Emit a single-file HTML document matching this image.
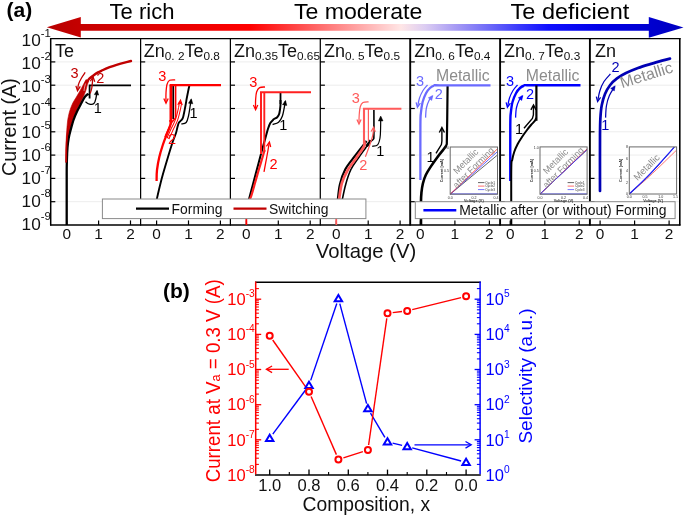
<!DOCTYPE html>
<html lang="en"><head><meta charset="utf-8"><title>Figure</title>
<style>html,body{margin:0;padding:0;background:#fff;}svg{display:block;}text{font-family:'Liberation Sans', sans-serif;}</style>
</head><body>
<svg width="685" height="517" viewBox="0 0 685 517">
<rect width="685" height="517" fill="#fff"/>
<defs><linearGradient id="g" gradientUnits="userSpaceOnUse" x1="47" y1="0" x2="684" y2="0">
<stop offset="0.0000" stop-color="#b80000"/>
<stop offset="0.1146" stop-color="#d40000"/>
<stop offset="0.3187" stop-color="#ff0000"/>
<stop offset="0.4600" stop-color="#ff8a8a"/>
<stop offset="0.5557" stop-color="#ffe6e6"/>
<stop offset="0.5934" stop-color="#dccdf2"/>
<stop offset="0.6405" stop-color="#a89cf4"/>
<stop offset="0.6954" stop-color="#6c68f8"/>
<stop offset="0.7425" stop-color="#3838fc"/>
<stop offset="0.7865" stop-color="#1010ff"/>
<stop offset="0.8681" stop-color="#0000e6"/>
<stop offset="1.0000" stop-color="#0000c0"/>
</linearGradient></defs>
<path d="M46.8 27.3 L80.8 17 L80.8 23.9 L648.8 23.9 L648.8 17 L683.5 27.5 L648.8 37.8 L648.8 30.8 L80.8 30.8 L80.8 37.4 Z" fill="url(#g)"/>
<text x="109.6" y="19.4" font-size="22" fill="#000" text-anchor="start" >Te rich</text>
<text x="293.9" y="19.4" font-size="22" fill="#000" text-anchor="start" textLength="128.5" lengthAdjust="spacingAndGlyphs">Te moderate</text>
<text x="510.6" y="19.3" font-size="22" fill="#000" text-anchor="start" textLength="118.8" lengthAdjust="spacingAndGlyphs">Te deficient</text>
<text x="6.5" y="16.8" font-size="21" fill="#000" text-anchor="start" font-weight="bold" >(a)</text>
<line x1="50.7" y1="201.7" x2="679.8" y2="201.7" stroke="#ebebeb" stroke-width="0.9"/>
<line x1="50.7" y1="178.4" x2="679.8" y2="178.4" stroke="#ebebeb" stroke-width="0.9"/>
<line x1="50.7" y1="155.1" x2="679.8" y2="155.1" stroke="#ebebeb" stroke-width="0.9"/>
<line x1="50.7" y1="131.8" x2="679.8" y2="131.8" stroke="#ebebeb" stroke-width="0.9"/>
<line x1="50.7" y1="108.5" x2="679.8" y2="108.5" stroke="#ebebeb" stroke-width="0.9"/>
<line x1="50.7" y1="85.2" x2="679.8" y2="85.2" stroke="#ebebeb" stroke-width="0.9"/>
<line x1="50.7" y1="61.9" x2="679.8" y2="61.9" stroke="#ebebeb" stroke-width="0.9"/>
<line x1="50.7" y1="201.7" x2="55.3" y2="201.7" stroke="#000" stroke-width="1.2"/>
<line x1="50.7" y1="178.4" x2="55.3" y2="178.4" stroke="#000" stroke-width="1.2"/>
<line x1="50.7" y1="155.1" x2="55.3" y2="155.1" stroke="#000" stroke-width="1.2"/>
<line x1="50.7" y1="131.8" x2="55.3" y2="131.8" stroke="#000" stroke-width="1.2"/>
<line x1="50.7" y1="108.5" x2="55.3" y2="108.5" stroke="#000" stroke-width="1.2"/>
<line x1="50.7" y1="85.2" x2="55.3" y2="85.2" stroke="#000" stroke-width="1.2"/>
<line x1="50.7" y1="61.9" x2="55.3" y2="61.9" stroke="#000" stroke-width="1.2"/>
<line x1="66.7" y1="225.0" x2="66.7" y2="220.4" stroke="#000" stroke-width="1.2"/>
<text x="66.7" y="238.7" font-size="15.4" fill="#111" text-anchor="middle" >0</text>
<line x1="98.6" y1="225.0" x2="98.6" y2="220.4" stroke="#000" stroke-width="1.2"/>
<text x="98.6" y="238.7" font-size="15.4" fill="#111" text-anchor="middle" >1</text>
<line x1="130.5" y1="225.0" x2="130.5" y2="220.4" stroke="#000" stroke-width="1.2"/>
<text x="130.5" y="238.7" font-size="15.4" fill="#111" text-anchor="middle" >2</text>
<line x1="50.7" y1="38.1" x2="50.7" y2="225.6" stroke="#000" stroke-width="1.5"/>
<line x1="140.6" y1="201.7" x2="145.2" y2="201.7" stroke="#000" stroke-width="1.2"/>
<line x1="140.6" y1="178.4" x2="145.2" y2="178.4" stroke="#000" stroke-width="1.2"/>
<line x1="140.6" y1="155.1" x2="145.2" y2="155.1" stroke="#000" stroke-width="1.2"/>
<line x1="140.6" y1="131.8" x2="145.2" y2="131.8" stroke="#000" stroke-width="1.2"/>
<line x1="140.6" y1="108.5" x2="145.2" y2="108.5" stroke="#000" stroke-width="1.2"/>
<line x1="140.6" y1="85.2" x2="145.2" y2="85.2" stroke="#000" stroke-width="1.2"/>
<line x1="140.6" y1="61.9" x2="145.2" y2="61.9" stroke="#000" stroke-width="1.2"/>
<line x1="156.6" y1="225.0" x2="156.6" y2="220.4" stroke="#000" stroke-width="1.2"/>
<text x="156.6" y="238.7" font-size="15.4" fill="#111" text-anchor="middle" >0</text>
<line x1="188.5" y1="225.0" x2="188.5" y2="220.4" stroke="#000" stroke-width="1.2"/>
<text x="188.5" y="238.7" font-size="15.4" fill="#111" text-anchor="middle" >1</text>
<line x1="220.4" y1="225.0" x2="220.4" y2="220.4" stroke="#000" stroke-width="1.2"/>
<text x="220.4" y="238.7" font-size="15.4" fill="#111" text-anchor="middle" >2</text>
<line x1="140.6" y1="38.1" x2="140.6" y2="225.6" stroke="#000" stroke-width="1.25"/>
<line x1="230.4" y1="201.7" x2="235.0" y2="201.7" stroke="#000" stroke-width="1.2"/>
<line x1="230.4" y1="178.4" x2="235.0" y2="178.4" stroke="#000" stroke-width="1.2"/>
<line x1="230.4" y1="155.1" x2="235.0" y2="155.1" stroke="#000" stroke-width="1.2"/>
<line x1="230.4" y1="131.8" x2="235.0" y2="131.8" stroke="#000" stroke-width="1.2"/>
<line x1="230.4" y1="108.5" x2="235.0" y2="108.5" stroke="#000" stroke-width="1.2"/>
<line x1="230.4" y1="85.2" x2="235.0" y2="85.2" stroke="#000" stroke-width="1.2"/>
<line x1="230.4" y1="61.9" x2="235.0" y2="61.9" stroke="#000" stroke-width="1.2"/>
<line x1="246.4" y1="225.0" x2="246.4" y2="220.4" stroke="#000" stroke-width="1.2"/>
<text x="246.4" y="238.7" font-size="15.4" fill="#111" text-anchor="middle" >0</text>
<line x1="278.3" y1="225.0" x2="278.3" y2="220.4" stroke="#000" stroke-width="1.2"/>
<text x="278.3" y="238.7" font-size="15.4" fill="#111" text-anchor="middle" >1</text>
<line x1="310.2" y1="225.0" x2="310.2" y2="220.4" stroke="#000" stroke-width="1.2"/>
<text x="310.2" y="238.7" font-size="15.4" fill="#111" text-anchor="middle" >2</text>
<line x1="230.4" y1="38.1" x2="230.4" y2="225.6" stroke="#000" stroke-width="1.25"/>
<line x1="320.3" y1="201.7" x2="324.9" y2="201.7" stroke="#000" stroke-width="1.2"/>
<line x1="320.3" y1="178.4" x2="324.9" y2="178.4" stroke="#000" stroke-width="1.2"/>
<line x1="320.3" y1="155.1" x2="324.9" y2="155.1" stroke="#000" stroke-width="1.2"/>
<line x1="320.3" y1="131.8" x2="324.9" y2="131.8" stroke="#000" stroke-width="1.2"/>
<line x1="320.3" y1="108.5" x2="324.9" y2="108.5" stroke="#000" stroke-width="1.2"/>
<line x1="320.3" y1="85.2" x2="324.9" y2="85.2" stroke="#000" stroke-width="1.2"/>
<line x1="320.3" y1="61.9" x2="324.9" y2="61.9" stroke="#000" stroke-width="1.2"/>
<line x1="336.3" y1="225.0" x2="336.3" y2="220.4" stroke="#000" stroke-width="1.2"/>
<text x="336.3" y="238.7" font-size="15.4" fill="#111" text-anchor="middle" >0</text>
<line x1="368.2" y1="225.0" x2="368.2" y2="220.4" stroke="#000" stroke-width="1.2"/>
<text x="368.2" y="238.7" font-size="15.4" fill="#111" text-anchor="middle" >1</text>
<line x1="400.1" y1="225.0" x2="400.1" y2="220.4" stroke="#000" stroke-width="1.2"/>
<text x="400.1" y="238.7" font-size="15.4" fill="#111" text-anchor="middle" >2</text>
<line x1="320.3" y1="38.1" x2="320.3" y2="225.6" stroke="#000" stroke-width="1.25"/>
<line x1="410.2" y1="201.7" x2="414.8" y2="201.7" stroke="#000" stroke-width="1.2"/>
<line x1="410.2" y1="178.4" x2="414.8" y2="178.4" stroke="#000" stroke-width="1.2"/>
<line x1="410.2" y1="155.1" x2="414.8" y2="155.1" stroke="#000" stroke-width="1.2"/>
<line x1="410.2" y1="131.8" x2="414.8" y2="131.8" stroke="#000" stroke-width="1.2"/>
<line x1="410.2" y1="108.5" x2="414.8" y2="108.5" stroke="#000" stroke-width="1.2"/>
<line x1="410.2" y1="85.2" x2="414.8" y2="85.2" stroke="#000" stroke-width="1.2"/>
<line x1="410.2" y1="61.9" x2="414.8" y2="61.9" stroke="#000" stroke-width="1.2"/>
<line x1="420.4" y1="225.0" x2="420.4" y2="220.4" stroke="#000" stroke-width="1.2"/>
<text x="420.4" y="238.7" font-size="15.4" fill="#111" text-anchor="middle" >0</text>
<line x1="454.9" y1="225.0" x2="454.9" y2="220.4" stroke="#000" stroke-width="1.2"/>
<text x="454.9" y="238.7" font-size="15.4" fill="#111" text-anchor="middle" >1</text>
<line x1="489.4" y1="225.0" x2="489.4" y2="220.4" stroke="#000" stroke-width="1.2"/>
<text x="489.4" y="238.7" font-size="15.4" fill="#111" text-anchor="middle" >2</text>
<line x1="410.2" y1="38.1" x2="410.2" y2="225.6" stroke="#000" stroke-width="1.9"/>
<line x1="500.1" y1="201.7" x2="504.7" y2="201.7" stroke="#000" stroke-width="1.2"/>
<line x1="500.1" y1="178.4" x2="504.7" y2="178.4" stroke="#000" stroke-width="1.2"/>
<line x1="500.1" y1="155.1" x2="504.7" y2="155.1" stroke="#000" stroke-width="1.2"/>
<line x1="500.1" y1="131.8" x2="504.7" y2="131.8" stroke="#000" stroke-width="1.2"/>
<line x1="500.1" y1="108.5" x2="504.7" y2="108.5" stroke="#000" stroke-width="1.2"/>
<line x1="500.1" y1="85.2" x2="504.7" y2="85.2" stroke="#000" stroke-width="1.2"/>
<line x1="500.1" y1="61.9" x2="504.7" y2="61.9" stroke="#000" stroke-width="1.2"/>
<line x1="510.2" y1="225.0" x2="510.2" y2="220.4" stroke="#000" stroke-width="1.2"/>
<text x="510.2" y="238.7" font-size="15.4" fill="#111" text-anchor="middle" >0</text>
<line x1="544.8" y1="225.0" x2="544.8" y2="220.4" stroke="#000" stroke-width="1.2"/>
<text x="544.8" y="238.7" font-size="15.4" fill="#111" text-anchor="middle" >1</text>
<line x1="579.2" y1="225.0" x2="579.2" y2="220.4" stroke="#000" stroke-width="1.2"/>
<text x="579.2" y="238.7" font-size="15.4" fill="#111" text-anchor="middle" >2</text>
<line x1="500.1" y1="38.1" x2="500.1" y2="225.6" stroke="#000" stroke-width="1.9"/>
<line x1="589.9" y1="201.7" x2="594.5" y2="201.7" stroke="#000" stroke-width="1.2"/>
<line x1="589.9" y1="178.4" x2="594.5" y2="178.4" stroke="#000" stroke-width="1.2"/>
<line x1="589.9" y1="155.1" x2="594.5" y2="155.1" stroke="#000" stroke-width="1.2"/>
<line x1="589.9" y1="131.8" x2="594.5" y2="131.8" stroke="#000" stroke-width="1.2"/>
<line x1="589.9" y1="108.5" x2="594.5" y2="108.5" stroke="#000" stroke-width="1.2"/>
<line x1="589.9" y1="85.2" x2="594.5" y2="85.2" stroke="#000" stroke-width="1.2"/>
<line x1="589.9" y1="61.9" x2="594.5" y2="61.9" stroke="#000" stroke-width="1.2"/>
<line x1="600.1" y1="225.0" x2="600.1" y2="220.4" stroke="#000" stroke-width="1.2"/>
<text x="600.1" y="238.7" font-size="15.4" fill="#111" text-anchor="middle" >0</text>
<line x1="634.6" y1="225.0" x2="634.6" y2="220.4" stroke="#000" stroke-width="1.2"/>
<text x="634.6" y="238.7" font-size="15.4" fill="#111" text-anchor="middle" >1</text>
<line x1="669.1" y1="225.0" x2="669.1" y2="220.4" stroke="#000" stroke-width="1.2"/>
<text x="669.1" y="238.7" font-size="15.4" fill="#111" text-anchor="middle" >2</text>
<line x1="589.9" y1="38.1" x2="589.9" y2="225.6" stroke="#000" stroke-width="1.9"/>
<line x1="679.8" y1="38.1" x2="679.8" y2="225.6" stroke="#000" stroke-width="1.6"/>
<line x1="50.1" y1="38.6" x2="680.5" y2="38.6" stroke="#000" stroke-width="1.2"/>
<line x1="50.1" y1="225.0" x2="680.5" y2="225.0" stroke="#000" stroke-width="1.5"/>
<path d="M65.9 162.5 C65.9 160.4 65.9 153.8 65.9 150.0 C66.0 146.2 66.1 143.3 66.2 140.0 C66.3 136.7 66.6 133.2 66.8 130.0 C67.0 126.8 67.3 123.5 67.6 121.0 C67.9 118.5 68.3 116.9 68.7 115.0 C69.1 113.1 69.5 111.5 70.2 109.5 C70.9 107.5 71.8 105.1 72.8 103.0 C73.8 100.9 75.2 99.1 76.4 97.0 C77.6 94.9 79.0 92.6 80.2 90.5 C81.4 88.4 82.4 86.3 83.4 84.5 C84.4 82.7 85.6 80.4 86.0 79.6 L88.8 81.0 C88.6 81.6 87.9 83.1 87.4 84.6 C86.9 86.1 86.6 88.1 86.0 90.0 C85.4 91.9 84.6 94.0 83.6 96.2 C82.6 98.5 81.2 101.1 80.0 103.5 C78.8 105.9 77.8 107.8 76.6 110.5 C75.4 113.2 74.1 116.3 73.0 119.5 C71.9 122.7 71.0 126.4 70.2 129.5 C69.4 132.6 68.7 135.0 68.2 138.0 C67.7 141.0 67.4 143.6 67.2 147.3 C67.0 151.0 67.0 157.5 67.0 160.0 C67.0 162.5 66.9 162.1 66.9 162.5 Z" fill="#c00000" stroke="#c00000" stroke-width="0.6"/>
<path d="M66.7 225.0 C66.7 216.7 66.7 185.8 66.7 175.0 C66.7 164.2 66.8 164.6 66.9 160.0 C67.0 155.4 67.2 151.0 67.5 147.3 C67.8 143.6 68.2 140.9 68.7 138.0 C69.2 135.1 69.9 132.8 70.7 129.8 C71.5 126.8 72.5 123.0 73.5 120.0 C74.5 117.0 75.8 114.0 77.0 111.5 C78.2 109.0 79.2 107.3 80.4 105.0 C81.6 102.7 83.1 99.5 84.2 97.8 C85.3 96.1 86.1 95.6 86.8 94.9 C87.5 94.2 88.3 94.1 88.6 93.9" fill="none" stroke="#000" stroke-width="2.3" />
<path d="M89.6 98.4 L89.6 85.4 L131.0 85.4" fill="none" stroke="#000" stroke-width="1.8" />
<path d="M66.2 162.5 C66.2 160.8 66.2 155.6 66.3 152.0 C66.4 148.4 66.5 144.3 66.8 141.0 C67.0 137.7 67.4 134.8 67.8 132.0 C68.2 129.2 69.1 125.3 69.4 124.0" fill="none" stroke="#c00000" stroke-width="1.7" />
<path d="M83.4 88.0 C83.7 87.3 84.8 85.1 85.4 84.0 C86.0 82.9 86.5 82.3 87.2 81.4 C87.9 80.5 88.6 79.4 89.6 78.4 C90.6 77.4 92.0 76.4 93.4 75.4 C94.8 74.4 96.4 73.3 98.0 72.4 C99.6 71.5 101.1 70.9 103.0 70.0 C104.9 69.1 107.3 68.1 109.6 67.2 C111.9 66.3 114.3 65.5 116.6 64.8 C118.9 64.1 121.2 63.4 123.6 62.8 C126.0 62.2 129.8 61.3 131.0 61.0" fill="none" stroke="#c00000" stroke-width="2.4" stroke-linecap="round"/>
<path d="M84.0 91.0 C84.1 90.3 84.3 88.2 84.6 87.0 C84.9 85.8 85.4 84.1 85.6 83.5" fill="none" stroke="#f3d0d0" stroke-width="0.7" />
<text x="74.5" y="78.2" font-size="14.5" fill="#c00000" text-anchor="middle" >3</text>
<path d="M85.2 72.4 C84.6 73.3 82.6 76.1 81.5 78.0 C80.4 79.9 79.2 82.0 78.6 84.0 C77.9 86.0 77.8 89.2 77.6 90.2" fill="none" stroke="#c00000" stroke-width="1.3" />
<path d="M75.9 85.9 L77.5 90.8 L80.3 86.4" fill="none" stroke="#c00000" stroke-width="1.25" stroke-linejoin="miter"/>
<text x="100.4" y="83.3" font-size="14.5" fill="#c00000" text-anchor="middle" >2</text>
<path d="M90.2 93.5 C90.5 92.6 91.3 90.7 91.8 88.0 C92.2 85.3 92.7 79.2 92.9 77.4" fill="none" stroke="#c00000" stroke-width="1.3" />
<path d="M94.8 81.7 L93.0 76.8 L90.4 81.3" fill="none" stroke="#c00000" stroke-width="1.25" stroke-linejoin="miter"/>
<path d="M85.5 101.8 C86.2 102.2 88.1 103.9 89.5 104.2 C90.9 104.5 92.8 104.6 93.9 103.6 C95.0 102.6 95.5 100.1 96.0 98.0 C96.5 95.9 96.8 92.2 97.0 91.0" fill="none" stroke="#000" stroke-width="1.3" />
<path d="M98.7 95.1 L97.1 90.2 L94.3 94.6 Z" fill="#000" stroke="#000" stroke-width="0.5"/>
<text x="97.9" y="112.8" font-size="14.5" fill="#000" text-anchor="middle" >1</text>
<path d="M156.6 200.0 C157.0 198.3 157.9 194.2 158.9 190.0 C159.9 185.8 161.2 180.3 162.7 175.0 C164.2 169.7 166.0 163.7 167.7 158.0 C169.4 152.3 171.6 145.2 173.0 141.0 C174.4 136.8 175.2 135.4 176.0 133.0 C176.8 130.6 177.1 128.2 177.6 126.5 C178.1 124.8 178.2 123.9 179.0 122.6 C179.8 121.3 181.8 120.1 182.6 118.5 C183.4 116.9 183.5 115.3 184.0 113.2 C184.5 111.1 184.9 108.5 185.4 106.0 C185.9 103.5 186.3 100.6 186.8 98.0 C187.3 95.4 187.9 92.6 188.3 90.5 C188.7 88.4 189.2 86.2 189.4 85.4" fill="none" stroke="#000" stroke-width="1.9" />
<path d="M173.2 119.0 L173.2 86.0" fill="none" stroke="#000" stroke-width="1.8" />
<path d="M156.6 181.0 C156.6 179.2 156.5 174.0 157.0 170.0 C157.5 166.0 158.3 161.2 159.3 157.0 C160.3 152.8 161.6 148.7 162.8 145.0 C164.0 141.3 165.2 138.3 166.5 135.0 C167.8 131.7 169.7 127.5 170.3 125.0 C171.0 122.5 170.4 120.8 170.4 120.0" fill="none" stroke="#ff0000" stroke-width="2.3" />
<path d="M170.9 122.0 L170.9 85.2" fill="none" stroke="#ff0000" stroke-width="2.8" />
<path d="M169.6 85.2 L221.0 85.2" fill="none" stroke="#ff0000" stroke-width="2.2" />
<path d="M165.0 137.0 L168.0 130.0 L172.0 122.0 L175.6 118.0 L175.6 85.2" fill="none" stroke="#ff0000" stroke-width="1.6" />
<path d="M168.0 138.5 C168.7 137.0 170.6 132.6 172.0 129.5 C173.4 126.4 175.2 123.6 176.5 120.0 C177.8 116.4 178.9 111.0 179.6 108.0 C180.2 105.0 180.3 103.0 180.4 102.0" fill="none" stroke="#ff0000" stroke-width="3.2" />
<path d="M168.4 137.5 C169.0 136.2 170.7 132.4 172.0 129.5 C173.3 126.6 175.2 123.6 176.5 120.0 C177.8 116.4 179.0 110.7 179.6 108.0 C180.2 105.3 180.2 104.7 180.3 104.0" fill="none" stroke="#fff" stroke-width="1.2" />
<path d="M182.2 105.1 L180.5 100.2 L177.8 104.7" fill="none" stroke="#ff0000" stroke-width="1.25" stroke-linejoin="miter"/>
<text x="172.0" y="144.2" font-size="14.5" fill="#ff0000" text-anchor="middle" >2</text>
<text x="162.2" y="81.2" font-size="14.5" fill="#ff0000" text-anchor="middle" >3</text>
<path d="M175.2 79.8 C174.3 79.9 171.0 79.5 169.6 80.3 C168.2 81.1 167.6 82.4 167.0 84.5 C166.4 86.6 166.2 90.0 166.0 93.0 C165.8 96.0 166.0 100.9 166.0 102.5" fill="none" stroke="#ff0000" stroke-width="1.3" />
<path d="M163.8 98.5 L166.0 103.2 L168.2 98.5" fill="none" stroke="#ff0000" stroke-width="1.25" stroke-linejoin="miter"/>
<path d="M181.4 124.0 C182.2 123.8 185.0 123.8 186.2 122.5 C187.4 121.2 187.9 118.6 188.5 116.0 C189.1 113.4 189.6 109.7 190.0 107.0 C190.4 104.3 191.0 100.8 191.2 99.6" fill="none" stroke="#000" stroke-width="1.3" />
<path d="M192.8 103.8 L191.3 98.8 L188.5 103.2 Z" fill="#000" stroke="#000" stroke-width="0.5"/>
<text x="193.6" y="117.6" font-size="14.5" fill="#000" text-anchor="middle" >1</text>
<path d="M248.8 200.0 C249.4 197.7 251.1 191.2 252.5 186.0 C253.9 180.8 255.5 174.7 257.0 169.0 C258.5 163.3 260.2 156.9 261.5 152.0 C262.8 147.1 263.9 143.4 265.0 139.5 C266.1 135.6 267.1 131.6 268.0 128.8 C268.9 126.1 269.4 124.5 270.3 123.0 C271.2 121.5 272.2 120.6 273.3 119.6 C274.4 118.6 276.2 118.2 277.2 117.2 C278.2 116.2 278.8 115.4 279.3 113.5 C279.8 111.6 280.2 108.2 280.4 106.0 C280.6 103.8 280.5 101.0 280.5 100.0" fill="none" stroke="#000" stroke-width="2.0" />
<path d="M280.5 104.0 L280.5 92.3" fill="none" stroke="#000" stroke-width="1.8" />
<path d="M246.4 225.0 C246.4 221.7 246.1 209.2 246.4 205.0 C246.7 200.8 247.9 200.8 248.2 200.0" fill="none" stroke="#ff0000" stroke-width="1.8" />
<path d="M247.6 203.0 C248.2 201.9 249.8 199.9 251.0 196.6 C252.2 193.3 253.7 187.6 255.0 183.0 C256.3 178.4 257.7 173.5 259.0 169.0 C260.3 164.5 262.0 159.2 262.9 156.0 C263.8 152.8 264.3 151.0 264.6 150.0" fill="none" stroke="#ff2020" stroke-width="2.2" />
<path d="M264.3 152.0 L264.3 92.3" fill="none" stroke="#ff2020" stroke-width="1.9" />
<path d="M261.0 154.0 L261.0 92.3 L311.0 92.3" fill="none" stroke="#ff2020" stroke-width="2.0" />
<path d="M264.0 171.8 C264.4 169.5 265.7 162.8 266.6 158.0 C267.5 153.2 268.8 145.5 269.2 143.0" fill="none" stroke="#ff0000" stroke-width="1.3" />
<path d="M270.7 147.0 L269.4 142.0 L266.4 146.3" fill="none" stroke="#ff0000" stroke-width="1.25" stroke-linejoin="miter"/>
<text x="273.5" y="168.5" font-size="14.5" fill="#ff0000" text-anchor="middle" >2</text>
<text x="253.3" y="87.0" font-size="14.5" fill="#ff0000" text-anchor="middle" >3</text>
<path d="M265.0 87.0 C264.1 87.1 261.0 86.8 259.6 87.6 C258.2 88.4 257.3 89.9 256.6 92.0 C255.9 94.1 255.8 97.2 255.6 100.0 C255.4 102.8 255.6 107.5 255.6 109.0" fill="none" stroke="#ff0000" stroke-width="1.3" />
<path d="M253.4 105.1 L255.6 109.8 L257.8 105.1" fill="none" stroke="#ff0000" stroke-width="1.25" stroke-linejoin="miter"/>
<path d="M272.6 124.6 C273.6 124.2 277.0 123.6 278.6 122.2 C280.2 120.8 281.5 118.4 282.4 116.0 C283.3 113.6 283.7 110.5 284.2 108.0 C284.7 105.5 285.2 102.3 285.4 101.2" fill="none" stroke="#000" stroke-width="1.3" />
<path d="M286.8 105.4 L285.5 100.4 L282.5 104.7 Z" fill="#000" stroke="#000" stroke-width="0.5"/>
<text x="283.2" y="129.5" font-size="14.5" fill="#000" text-anchor="middle" >1</text>
<path d="M336.3 225.0 C336.3 221.7 336.0 209.3 336.3 205.0 C336.7 200.7 338.1 200.0 338.4 199.0" fill="none" stroke="#ff5a5a" stroke-width="1.8" />
<path d="M342.2 200.0 C342.8 197.4 344.2 189.5 345.7 184.4 C347.1 179.3 348.8 173.9 350.9 169.5 C353.0 165.1 356.2 161.2 358.4 158.0 C360.6 154.8 362.4 152.4 364.1 150.0 C365.8 147.6 367.9 144.7 368.6 143.6" fill="none" stroke="#000" stroke-width="1.6" />
<path d="M337.8 200.0 C338.1 197.4 338.7 189.5 339.9 184.4 C341.1 179.3 342.7 174.2 345.2 169.5 C347.7 164.8 351.6 160.4 354.8 156.2 C358.0 152.0 362.2 146.7 364.2 144.2 C366.2 141.7 366.2 141.5 366.6 141.0" fill="none" stroke="#000" stroke-width="2.2" />
<path d="M366.6 146.4 C366.9 145.9 367.9 144.6 368.6 143.6 C369.3 142.6 370.4 140.9 370.8 140.4" fill="none" stroke="#000" stroke-width="2.8" />
<path d="M370.4 141.4 C370.9 141.0 372.8 140.3 373.4 139.2 C374.0 138.1 373.8 139.9 373.9 135.0 C374.0 130.1 373.9 114.1 373.9 109.9" fill="none" stroke="#000" stroke-width="1.6" />
<path d="M339.0 200.0 C339.5 197.2 340.4 188.4 341.8 183.4 C343.2 178.4 345.1 174.5 347.6 170.2 C350.1 165.9 353.9 161.4 356.6 157.4 C359.3 153.4 362.7 149.1 364.0 146.4 C365.3 143.7 364.3 141.9 364.4 141.0" fill="none" stroke="#ff5a5a" stroke-width="2.7" />
<path d="M364.0 144.0 L364.0 108.7 L401.4 108.7" fill="none" stroke="#ff5a5a" stroke-width="2.1" />
<path d="M368.4 141.6 L368.4 108.7" fill="none" stroke="#ff5a5a" stroke-width="1.2" />
<path d="M365.4 156.7 C366.1 154.9 368.2 149.4 369.4 146.0 C370.6 142.6 371.9 138.9 372.6 136.0 C373.3 133.1 373.4 129.7 373.5 128.4" fill="none" stroke="#ff5a5a" stroke-width="1.2" />
<path d="M375.3 131.9 L373.7 127.2 L371.1 131.5" fill="none" stroke="#ff5a5a" stroke-width="1.2" stroke-linejoin="miter"/>
<text x="363.4" y="169.8" font-size="14.5" fill="#ff5a5a" text-anchor="middle" >2</text>
<text x="355.9" y="103.2" font-size="14.5" fill="#ff5a5a" text-anchor="middle" >3</text>
<path d="M368.6 101.8 C367.7 101.9 364.4 101.7 363.0 102.6 C361.6 103.5 360.8 104.9 360.2 107.0 C359.6 109.1 359.4 112.4 359.2 115.0 C359.0 117.6 359.0 121.3 359.0 122.6" fill="none" stroke="#ff5a5a" stroke-width="1.2" />
<path d="M356.9 119.5 L359.0 124.0 L361.1 119.5" fill="none" stroke="#ff5a5a" stroke-width="1.2" stroke-linejoin="miter"/>
<path d="M372.2 146.4 C373.1 146.1 376.3 146.2 377.6 144.8 C378.9 143.4 379.5 140.8 380.0 138.0 C380.5 135.2 380.5 131.4 380.6 128.0 C380.7 124.6 380.7 119.5 380.7 117.8" fill="none" stroke="#000" stroke-width="1.2" />
<path d="M383.0 120.9 L380.7 116.0 L378.4 120.9 Z" fill="#000" stroke="#000" stroke-width="0.5"/>
<text x="380.4" y="155.9" font-size="14.5" fill="#000" text-anchor="middle" >1</text>
<path d="M421.0 225.0 C421.0 221.0 420.9 206.5 421.0 201.0 C421.1 195.5 421.2 195.1 421.5 192.2 C421.8 189.3 422.2 186.4 422.9 183.5 C423.6 180.6 424.5 177.7 425.9 174.8 C427.3 171.9 429.2 169.0 431.1 166.1 C433.0 163.2 435.3 160.0 437.2 157.4 C439.1 154.8 441.1 152.5 442.6 150.6 C444.1 148.7 445.4 146.9 446.0 146.2" fill="none" stroke="#000" stroke-width="2.6" />
<path d="M445.6 147.2 L446.8 144.0 L447.2 120.0 L447.6 85.4" fill="none" stroke="#000" stroke-width="2.2" />
<path d="M420.4 180.0 C420.4 170.8 420.3 136.2 420.4 125.0 C420.5 113.8 420.5 116.8 420.9 113.0 C421.3 109.2 421.8 105.3 422.6 102.0 C423.5 98.7 424.8 95.5 426.0 93.2 C427.2 90.9 428.6 89.3 430.0 88.0 C431.4 86.7 432.8 86.0 434.5 85.5 C436.2 85.0 430.7 85.3 440.0 85.3 C449.3 85.3 482.1 85.3 490.5 85.3" fill="none" stroke="#6a6aff" stroke-width="2.3" />
<text x="420.0" y="85.6" font-size="14.5" fill="#6a6aff" text-anchor="middle" >3</text>
<path d="M427.5 85.0 C426.8 85.9 424.3 88.3 423.0 90.5 C421.7 92.7 420.4 95.3 419.5 98.0 C418.6 100.7 417.9 105.2 417.6 106.6" fill="none" stroke="#6a6aff" stroke-width="1.25" />
<path d="M416.1 102.4 L417.4 107.4 L420.4 103.1" fill="none" stroke="#6a6aff" stroke-width="1.25" stroke-linejoin="miter"/>
<text x="438.8" y="98.9" font-size="14.5" fill="#6a6aff" text-anchor="middle" >2</text>
<path d="M425.6 117.6 C425.7 116.0 425.8 110.8 426.4 108.0 C427.0 105.2 428.0 102.5 429.0 100.5 C430.0 98.5 431.8 96.8 432.4 96.0" fill="none" stroke="#6a6aff" stroke-width="1.25" />
<path d="M431.7 100.5 L432.9 95.4 L428.3 97.8 Z" fill="#6a6aff" stroke="#6a6aff" stroke-width="0.5"/>
<text x="462.8" y="80.8" font-size="15.8" fill="#8c8c8c" text-anchor="middle" >Metallic</text>
<path d="M436.0 153.4 L441.4 144.6 L441.9 141.0 L441.9 128.6" fill="none" stroke="#000" stroke-width="1.4" />
<path d="M444.5 132.5 L441.9 127.6 L439.3 132.5" fill="none" stroke="#000" stroke-width="1.4" stroke-linejoin="miter"/>
<text x="430.6" y="162.0" font-size="14.5" fill="#000" text-anchor="middle" >1</text>
<path d="M510.3 181.0 C510.3 171.7 510.2 136.3 510.3 125.0 C510.4 113.7 510.4 116.8 510.8 113.0 C511.2 109.2 511.6 105.3 512.5 102.0 C513.4 98.7 514.8 95.5 516.0 93.2 C517.2 90.9 518.6 89.3 520.0 88.0 C521.4 86.7 522.8 86.0 524.5 85.5 C526.2 85.0 520.7 85.3 530.0 85.3 C539.3 85.3 572.1 85.3 580.5 85.3" fill="none" stroke="#0000ff" stroke-width="2.4" />
<path d="M511.3 225.0 C511.3 215.5 511.1 178.8 511.3 168.0 C511.5 157.2 511.7 162.7 512.2 160.0 C512.7 157.3 513.3 154.7 514.2 152.0 C515.1 149.3 516.4 146.5 517.7 144.0 C519.0 141.5 520.5 139.3 522.0 137.0 C523.5 134.7 525.5 132.0 527.0 130.0 C528.5 128.0 529.7 126.5 531.0 125.0 C532.3 123.5 533.7 122.4 534.6 121.2 C535.5 120.0 535.9 118.5 536.2 118.0" fill="none" stroke="#000" stroke-width="2.0" />
<path d="M536.4 120.8 L536.4 85.4" fill="none" stroke="#000" stroke-width="2.2" />
<text x="510.0" y="85.6" font-size="14.5" fill="#0000ff" text-anchor="middle" >3</text>
<path d="M517.5 85.0 C516.8 85.9 514.3 88.3 513.0 90.5 C511.7 92.7 510.4 95.3 509.5 98.0 C508.6 100.7 507.9 105.2 507.6 106.6" fill="none" stroke="#0000ff" stroke-width="1.25" />
<path d="M506.1 102.4 L507.4 107.4 L510.4 103.1" fill="none" stroke="#0000ff" stroke-width="1.25" stroke-linejoin="miter"/>
<text x="530.0" y="98.9" font-size="14.5" fill="#0000ff" text-anchor="middle" >2</text>
<path d="M515.6 117.6 C515.7 116.0 515.8 110.8 516.4 108.0 C517.0 105.2 518.0 102.5 519.0 100.5 C520.0 98.5 521.8 96.8 522.4 96.0" fill="none" stroke="#0000ff" stroke-width="1.25" />
<path d="M521.7 100.5 L522.9 95.4 L518.3 97.8 Z" fill="#0000ff" stroke="#0000ff" stroke-width="0.5"/>
<text x="552.6" y="80.8" font-size="15.8" fill="#8c8c8c" text-anchor="middle" >Metallic</text>
<path d="M524.0 128.2 L532.4 118.4 L533.4 115.0 L533.5 106.0" fill="none" stroke="#000" stroke-width="1.4" />
<path d="M536.1 109.9 L533.5 105.0 L530.9 109.9" fill="none" stroke="#000" stroke-width="1.4" stroke-linejoin="miter"/>
<text x="519.0" y="134.0" font-size="14.5" fill="#000" text-anchor="middle" >1</text>
<path d="M600.0 191.0 C600.0 181.7 599.9 147.2 600.0 135.0 C600.1 122.8 600.1 123.0 600.4 118.0 C600.7 113.0 601.0 109.0 601.8 105.0 C602.6 101.0 603.6 97.3 605.0 94.0 C606.4 90.7 608.0 87.8 610.0 85.2 C612.0 82.6 614.3 80.4 617.0 78.4 C619.7 76.4 622.5 74.7 626.0 73.0 C629.5 71.3 633.7 69.6 638.0 68.0 C642.3 66.4 648.0 64.8 652.0 63.6 C656.0 62.4 659.0 61.4 662.0 60.6 C665.0 59.8 668.7 58.9 670.0 58.6" fill="none" stroke="#0000b4" stroke-width="2.7" stroke-linecap="round"/>
<text x="615.6" y="71.8" font-size="14.5" fill="#0000b4" text-anchor="middle" >2</text>
<path d="M610.4 74.0 C609.3 75.2 605.8 78.7 604.0 81.5 C602.2 84.3 600.8 87.8 599.8 91.0 C598.8 94.2 598.1 99.0 597.8 100.6" fill="none" stroke="#0000b4" stroke-width="1.25" />
<path d="M596.3 96.6 L597.6 101.6 L600.6 97.3" fill="none" stroke="#0000b4" stroke-width="1.25" stroke-linejoin="miter"/>
<path d="M605.6 117.6 C605.7 115.7 605.8 109.7 606.4 106.0 C607.0 102.3 608.0 98.7 609.4 95.5 C610.8 92.3 613.7 88.1 614.6 86.6" fill="none" stroke="#0000b4" stroke-width="1.25" />
<path d="M614.3 90.9 L615.2 85.8 L610.7 88.4 Z" fill="#0000b4" stroke="#0000b4" stroke-width="0.5"/>
<text x="605.2" y="129.8" font-size="14.5" fill="#0000b4" text-anchor="middle" >1</text>
<text x="646.3" y="80.4" font-size="16" fill="#8c8c8c" text-anchor="middle" transform="rotate(-17.5 646.3 75)">Metallic</text>
<rect x="102.4" y="199.0" width="263.5" height="19.6" fill="#fff" stroke="#8a8a8a" stroke-width="1"/>
<line x1="136.0" y1="208.6" x2="169.0" y2="208.6" stroke="#000" stroke-width="2.2"/>
<text x="171.6" y="213.7" font-size="13.9" fill="#111" text-anchor="start" >Forming</text>
<line x1="233.5" y1="208.6" x2="266.5" y2="208.6" stroke="#c00000" stroke-width="2.2"/>
<text x="269.0" y="213.7" font-size="13.9" fill="#111" text-anchor="start" >Switching</text>
<rect x="415.3" y="201.7" width="259.8" height="16.9" fill="#fff" stroke="#8a8a8a" stroke-width="1"/>
<line x1="423.4" y1="210.3" x2="456.3" y2="210.3" stroke="#0000ff" stroke-width="2.5"/>
<text x="459.2" y="215.4" font-size="13.9" fill="#111" text-anchor="start" textLength="207.4" lengthAdjust="spacingAndGlyphs">Metallic after (or without) Forming</text>
<g>
<line x1="450.2" y1="193.9" x2="497.5" y2="193.9" stroke="#a0a0ff" stroke-width="1.6"/>
<path d="M450.2 194.2 L497.5 155.0" fill="none" stroke="#222" stroke-width="0.7" />
<path d="M450.2 194.2 L497.5 151.6" fill="none" stroke="#3a3aff" stroke-width="0.8" />
<path d="M450.2 194.2 L497.5 148.8" fill="none" stroke="#ff3030" stroke-width="0.8" />
<rect x="450.2" y="147.0" width="47.3" height="47.2" fill="none" stroke="#6a6a6a" stroke-width="1"/>
<text x="450.2" y="198.6" font-size="3.6" fill="#333" text-anchor="middle" >0.0</text>
<text x="473.9" y="198.6" font-size="3.6" fill="#333" text-anchor="middle" >0.2</text>
<text x="496.0" y="198.6" font-size="3.6" fill="#333" text-anchor="middle" >0.4</text>
<text x="449.0" y="171.8" font-size="3.6" fill="#333" text-anchor="end" >0.5</text>
<text x="449.0" y="148.6" font-size="3.6" fill="#333" text-anchor="end" >1.0</text>
<text x="473.9" y="202.1" font-size="3.8" fill="#333" text-anchor="middle" font-weight="bold" >Voltage (V)</text>
<line x1="478.0" y1="182.6" x2="484.5" y2="182.6" stroke="#222" stroke-width="0.7"/>
<text x="485.3" y="183.7" font-size="3.2" fill="#333" text-anchor="start" >Cycle1</text>
<line x1="478.0" y1="186.1" x2="484.5" y2="186.1" stroke="#ff3030" stroke-width="0.7"/>
<text x="485.3" y="187.2" font-size="3.2" fill="#333" text-anchor="start" >Cycle2</text>
<line x1="478.0" y1="189.6" x2="484.5" y2="189.6" stroke="#3a3aff" stroke-width="0.7"/>
<text x="485.3" y="190.7" font-size="3.2" fill="#333" text-anchor="start" >Cycle3</text>
<g transform="translate(469.6 165.2) rotate(-45)">
<text x="0.0" y="-2.4" font-size="9.2" fill="#8c8c8c" text-anchor="middle" >Metallic</text>
<text x="1.0" y="7.4" font-size="9.0" fill="#8c8c8c" text-anchor="middle" >after Forming</text>
</g>
<text x="0.0" y="0.0" font-size="3.8" fill="#333" text-anchor="middle" font-weight="bold" transform="translate(442.8 170.6) rotate(-90)">Current [mA]</text>
</g>
<g>
<line x1="540.0" y1="193.9" x2="587.1" y2="193.9" stroke="#a0a0ff" stroke-width="1.6"/>
<path d="M540.0 194.2 L587.1 149.5" fill="none" stroke="#222" stroke-width="0.7" />
<path d="M540.0 194.2 L587.1 148.9" fill="none" stroke="#ff3030" stroke-width="0.9" />
<path d="M540.0 194.0 L587.1 149.7" fill="none" stroke="#3a3aff" stroke-width="0.9" />
<rect x="540.0" y="146.9" width="47.1" height="47.3" fill="none" stroke="#6a6a6a" stroke-width="1"/>
<text x="540.0" y="198.6" font-size="3.6" fill="#333" text-anchor="middle" >0.0</text>
<text x="563.5" y="198.6" font-size="3.6" fill="#333" text-anchor="middle" >0.2</text>
<text x="585.6" y="198.6" font-size="3.6" fill="#333" text-anchor="middle" >0.4</text>
<text x="538.8" y="171.8" font-size="3.6" fill="#333" text-anchor="end" >0.5</text>
<text x="538.8" y="148.5" font-size="3.6" fill="#333" text-anchor="end" >1.0</text>
<text x="563.5" y="202.1" font-size="3.8" fill="#333" text-anchor="middle" font-weight="bold" >Voltage (V)</text>
<line x1="567.6" y1="182.6" x2="574.1" y2="182.6" stroke="#222" stroke-width="0.7"/>
<text x="574.9" y="183.7" font-size="3.2" fill="#333" text-anchor="start" >Cycle1</text>
<line x1="567.6" y1="186.1" x2="574.1" y2="186.1" stroke="#ff3030" stroke-width="0.7"/>
<text x="574.9" y="187.2" font-size="3.2" fill="#333" text-anchor="start" >Cycle2</text>
<line x1="567.6" y1="189.6" x2="574.1" y2="189.6" stroke="#3a3aff" stroke-width="0.7"/>
<text x="574.9" y="190.7" font-size="3.2" fill="#333" text-anchor="start" >Cycle3</text>
<g transform="translate(559.4 165.1) rotate(-45)">
<text x="0.0" y="-2.4" font-size="9.2" fill="#8c8c8c" text-anchor="middle" >Metallic</text>
<text x="1.0" y="7.4" font-size="9.0" fill="#8c8c8c" text-anchor="middle" >after Forming</text>
</g>
<text x="0.0" y="0.0" font-size="3.8" fill="#333" text-anchor="middle" font-weight="bold" transform="translate(532.6 170.6) rotate(-90)">Current [mA]</text>
</g>
<g>
<path d="M629.3 194.0 C632.6 191.1 641.4 183.7 649.3 176.4 C657.2 169.1 672.0 154.5 676.6 150.1" fill="none" stroke="#ff5050" stroke-width="0.8" />
<path d="M629.3 194.0 C632.6 190.8 641.8 182.8 649.3 175.0 C656.8 167.2 670.4 151.6 674.6 146.9" fill="none" stroke="#111" stroke-width="0.8" />
<path d="M629.3 194.0 C632.6 190.8 641.8 182.4 649.3 174.6 C656.8 166.8 670.1 151.7 674.2 147.1" fill="none" stroke="#2020ff" stroke-width="1.25" />
<rect x="629.3" y="146.9" width="47.3" height="47.1" fill="none" stroke="#6a6a6a" stroke-width="1"/>
<text x="629.3" y="198.4" font-size="3.6" fill="#333" text-anchor="middle" >0.0</text>
<text x="645.1" y="198.4" font-size="3.6" fill="#333" text-anchor="middle" >0.5</text>
<text x="660.8" y="198.4" font-size="3.6" fill="#333" text-anchor="middle" >1.0</text>
<text x="675.6" y="198.4" font-size="3.6" fill="#333" text-anchor="middle" >1.5</text>
<text x="628.1" y="195.3" font-size="3.6" fill="#333" text-anchor="end" >0</text>
<text x="628.1" y="183.5" font-size="3.6" fill="#333" text-anchor="end" >2</text>
<text x="628.1" y="171.8" font-size="3.6" fill="#333" text-anchor="end" >4</text>
<text x="628.1" y="160.0" font-size="3.6" fill="#333" text-anchor="end" >6</text>
<text x="628.1" y="148.2" font-size="3.6" fill="#333" text-anchor="end" >8</text>
<text x="653.0" y="201.9" font-size="3.8" fill="#333" text-anchor="middle" font-weight="bold" >Voltage [V]</text>
<g transform="translate(648.9 169.5) rotate(-45)">
<text x="0.0" y="0.0" font-size="9.6" fill="#8c8c8c" text-anchor="middle" >Metallic</text>
</g>
<text x="0.0" y="0.0" font-size="3.8" fill="#333" text-anchor="middle" font-weight="bold" transform="translate(621.9 170.4) rotate(-90)">Current [mA]</text>
</g>
<text x="21.6" y="229.5" font-size="17.2" fill="#111">10<tspan dy="-9.3" font-size="11.4">-9</tspan></text>
<text x="21.6" y="206.6" font-size="17.2" fill="#111">10<tspan dy="-9.3" font-size="11.4">-8</tspan></text>
<text x="21.6" y="183.6" font-size="17.2" fill="#111">10<tspan dy="-9.3" font-size="11.4">-7</tspan></text>
<text x="21.6" y="160.7" font-size="17.2" fill="#111">10<tspan dy="-9.3" font-size="11.4">-6</tspan></text>
<text x="21.6" y="137.8" font-size="17.2" fill="#111">10<tspan dy="-9.3" font-size="11.4">-5</tspan></text>
<text x="21.6" y="114.8" font-size="17.2" fill="#111">10<tspan dy="-9.3" font-size="11.4">-4</tspan></text>
<text x="21.6" y="91.9" font-size="17.2" fill="#111">10<tspan dy="-9.3" font-size="11.4">-3</tspan></text>
<text x="21.6" y="68.9" font-size="17.2" fill="#111">10<tspan dy="-9.3" font-size="11.4">-2</tspan></text>
<text x="21.6" y="46.0" font-size="17.2" fill="#111">10<tspan dy="-9.3" font-size="11.4">-1</tspan></text>
<text x="55.1" y="56.6" font-size="18" fill="#111"><tspan dy="0.0" font-size="18">Te</tspan></text>
<text x="143.8" y="56.6" font-size="18" fill="#111"><tspan dy="0.0" font-size="18">Zn</tspan><tspan dy="3.4" font-size="11.8">0. 2</tspan><tspan dy="-3.4" font-size="18">Te</tspan><tspan dy="3.4" font-size="11.8">0.8</tspan></text>
<text x="234.0" y="56.6" font-size="18" fill="#111"><tspan dy="0.0" font-size="18">Zn</tspan><tspan dy="3.4" font-size="11.8">0.35</tspan><tspan dy="-3.4" font-size="18">Te</tspan><tspan dy="3.4" font-size="11.8">0.65</tspan></text>
<text x="323.9" y="56.6" font-size="18" fill="#111"><tspan dy="0.0" font-size="18">Zn</tspan><tspan dy="3.4" font-size="11.8">0. 5</tspan><tspan dy="-3.4" font-size="18">Te</tspan><tspan dy="3.4" font-size="11.8">0.5</tspan></text>
<text x="414.2" y="56.6" font-size="18" fill="#111"><tspan dy="0.0" font-size="18">Zn</tspan><tspan dy="3.4" font-size="11.8">0. 6</tspan><tspan dy="-3.4" font-size="18">Te</tspan><tspan dy="3.4" font-size="11.8">0.4</tspan></text>
<text x="504.1" y="56.6" font-size="18" fill="#111"><tspan dy="0.0" font-size="18">Zn</tspan><tspan dy="3.4" font-size="11.8">0. 7</tspan><tspan dy="-3.4" font-size="18">Te</tspan><tspan dy="3.4" font-size="11.8">0.3</tspan></text>
<text x="594.9" y="56.6" font-size="18" fill="#111"><tspan dy="0.0" font-size="18">Zn</tspan></text>
<text x="0.0" y="0.0" font-size="19.8" fill="#111" text-anchor="middle" transform="translate(15.6 127.1) rotate(-90)">Current (A)</text>
<text x="366.0" y="257.7" font-size="20.3" fill="#111" text-anchor="middle" >Voltage (V)</text>
<text x="163.0" y="298.4" font-size="21" fill="#000" text-anchor="start" font-weight="bold" >(b)</text>
<path d="M272.8 434.2 L305.9 389.5" fill="none" stroke="#0000ff" stroke-width="1.4" />
<path d="M310.7 380.4 L336.8 303.5" fill="none" stroke="#0000ff" stroke-width="1.4" />
<path d="M339.8 303.6 L366.6 403.6" fill="none" stroke="#0000ff" stroke-width="1.4" />
<path d="M370.5 413.1 L384.9 437.4" fill="none" stroke="#0000ff" stroke-width="1.4" />
<path d="M392.6 443.1 L402.1 445.4" fill="none" stroke="#0000ff" stroke-width="1.4" />
<path d="M412.2 447.9 L461.1 461.0" fill="none" stroke="#0000ff" stroke-width="1.4" />
<path d="M272.7 340.0 L306.0 387.4" fill="none" stroke="#ff0000" stroke-width="1.4" />
<path d="M311.1 396.5 L336.4 454.6" fill="none" stroke="#ff0000" stroke-width="1.4" />
<path d="M343.4 457.8 L362.9 451.7" fill="none" stroke="#ff0000" stroke-width="1.4" />
<path d="M368.6 445.0 L386.8 318.3" fill="none" stroke="#ff0000" stroke-width="1.4" />
<path d="M392.7 312.6 L402.0 311.5" fill="none" stroke="#ff0000" stroke-width="1.4" />
<path d="M412.2 309.6 L461.1 297.6" fill="none" stroke="#ff0000" stroke-width="1.4" />
<path d="M269.7 434.8 L273.4 441.0 L266.0 441.0 Z" fill="#fff" stroke="#0000ff" stroke-width="2.0" stroke-linejoin="miter"/>
<path d="M309.0 381.7 L312.7 387.9 L305.3 387.9 Z" fill="#fff" stroke="#0000ff" stroke-width="2.0" stroke-linejoin="miter"/>
<path d="M338.4 295.0 L342.1 301.2 L334.7 301.2 Z" fill="#fff" stroke="#0000ff" stroke-width="2.0" stroke-linejoin="miter"/>
<path d="M367.9 405.0 L371.6 411.2 L364.2 411.2 Z" fill="#fff" stroke="#0000ff" stroke-width="2.0" stroke-linejoin="miter"/>
<path d="M387.5 438.3 L391.2 444.5 L383.8 444.5 Z" fill="#fff" stroke="#0000ff" stroke-width="2.0" stroke-linejoin="miter"/>
<path d="M407.2 443.0 L410.9 449.2 L403.5 449.2 Z" fill="#fff" stroke="#0000ff" stroke-width="2.0" stroke-linejoin="miter"/>
<path d="M466.1 458.7 L469.8 464.9 L462.4 464.9 Z" fill="#fff" stroke="#0000ff" stroke-width="2.0" stroke-linejoin="miter"/>
<circle cx="269.7" cy="335.7" r="3.0" fill="#fff" stroke="#ff0000" stroke-width="2.0"/>
<circle cx="309.0" cy="391.7" r="3.0" fill="#fff" stroke="#ff0000" stroke-width="2.0"/>
<circle cx="338.4" cy="459.4" r="3.0" fill="#fff" stroke="#ff0000" stroke-width="2.0"/>
<circle cx="367.9" cy="450.1" r="3.0" fill="#fff" stroke="#ff0000" stroke-width="2.0"/>
<circle cx="387.5" cy="313.2" r="3.0" fill="#fff" stroke="#ff0000" stroke-width="2.0"/>
<circle cx="407.2" cy="310.9" r="3.0" fill="#fff" stroke="#ff0000" stroke-width="2.0"/>
<circle cx="466.1" cy="296.3" r="3.0" fill="#fff" stroke="#ff0000" stroke-width="2.0"/>
<path d="M288.7 369.3 L266.8 369.3" fill="none" stroke="#ff0000" stroke-width="1.3" />
<path d="M272.1 366.0 L266.4 369.3 L272.1 372.6" fill="none" stroke="#ff0000" stroke-width="1.3" stroke-linejoin="miter"/>
<path d="M414.5 444.8 L470.8 444.8" fill="none" stroke="#0000ff" stroke-width="1.3" />
<path d="M465.5 448.1 L471.2 444.8 L465.5 441.5" fill="none" stroke="#0000ff" stroke-width="1.3" stroke-linejoin="miter"/>
<line x1="255.0" y1="282.3" x2="480.8" y2="282.3" stroke="#000" stroke-width="1.5"/>
<line x1="255.0" y1="475.0" x2="480.8" y2="475.0" stroke="#000" stroke-width="1.5"/>
<line x1="255.7" y1="281.6" x2="255.7" y2="474.3" stroke="#ff0000" stroke-width="1.5"/>
<line x1="480.1" y1="281.6" x2="480.1" y2="474.3" stroke="#0000ff" stroke-width="1.5"/>
<line x1="255.7" y1="464.4" x2="258.9" y2="464.4" stroke="#ff0000" stroke-width="1.1"/>
<line x1="480.1" y1="464.4" x2="476.9" y2="464.4" stroke="#0000ff" stroke-width="1.1"/>
<line x1="255.7" y1="458.2" x2="258.9" y2="458.2" stroke="#ff0000" stroke-width="1.1"/>
<line x1="480.1" y1="458.2" x2="476.9" y2="458.2" stroke="#0000ff" stroke-width="1.1"/>
<line x1="255.7" y1="453.8" x2="258.9" y2="453.8" stroke="#ff0000" stroke-width="1.1"/>
<line x1="480.1" y1="453.8" x2="476.9" y2="453.8" stroke="#0000ff" stroke-width="1.1"/>
<line x1="255.7" y1="450.4" x2="258.9" y2="450.4" stroke="#ff0000" stroke-width="1.1"/>
<line x1="480.1" y1="450.4" x2="476.9" y2="450.4" stroke="#0000ff" stroke-width="1.1"/>
<line x1="255.7" y1="447.6" x2="258.9" y2="447.6" stroke="#ff0000" stroke-width="1.1"/>
<line x1="480.1" y1="447.6" x2="476.9" y2="447.6" stroke="#0000ff" stroke-width="1.1"/>
<line x1="255.7" y1="445.3" x2="258.9" y2="445.3" stroke="#ff0000" stroke-width="1.1"/>
<line x1="480.1" y1="445.3" x2="476.9" y2="445.3" stroke="#0000ff" stroke-width="1.1"/>
<line x1="255.7" y1="443.2" x2="258.9" y2="443.2" stroke="#ff0000" stroke-width="1.1"/>
<line x1="480.1" y1="443.2" x2="476.9" y2="443.2" stroke="#0000ff" stroke-width="1.1"/>
<line x1="255.7" y1="441.4" x2="258.9" y2="441.4" stroke="#ff0000" stroke-width="1.1"/>
<line x1="480.1" y1="441.4" x2="476.9" y2="441.4" stroke="#0000ff" stroke-width="1.1"/>
<text x="227.3" y="480.7" font-size="16.5" fill="#ff0000">10<tspan dy="-7.4" font-size="10.2">-8</tspan></text>
<text x="485.6" y="480.7" font-size="16.5" fill="#0000ff">10<tspan dy="-7.4" font-size="10.2">0</tspan></text>
<line x1="255.7" y1="439.8" x2="261.2" y2="439.8" stroke="#ff0000" stroke-width="1.3"/>
<line x1="480.1" y1="439.8" x2="474.6" y2="439.8" stroke="#0000ff" stroke-width="1.3"/>
<line x1="255.7" y1="429.3" x2="258.9" y2="429.3" stroke="#ff0000" stroke-width="1.1"/>
<line x1="480.1" y1="429.3" x2="476.9" y2="429.3" stroke="#0000ff" stroke-width="1.1"/>
<line x1="255.7" y1="423.1" x2="258.9" y2="423.1" stroke="#ff0000" stroke-width="1.1"/>
<line x1="480.1" y1="423.1" x2="476.9" y2="423.1" stroke="#0000ff" stroke-width="1.1"/>
<line x1="255.7" y1="418.7" x2="258.9" y2="418.7" stroke="#ff0000" stroke-width="1.1"/>
<line x1="480.1" y1="418.7" x2="476.9" y2="418.7" stroke="#0000ff" stroke-width="1.1"/>
<line x1="255.7" y1="415.3" x2="258.9" y2="415.3" stroke="#ff0000" stroke-width="1.1"/>
<line x1="480.1" y1="415.3" x2="476.9" y2="415.3" stroke="#0000ff" stroke-width="1.1"/>
<line x1="255.7" y1="412.5" x2="258.9" y2="412.5" stroke="#ff0000" stroke-width="1.1"/>
<line x1="480.1" y1="412.5" x2="476.9" y2="412.5" stroke="#0000ff" stroke-width="1.1"/>
<line x1="255.7" y1="410.1" x2="258.9" y2="410.1" stroke="#ff0000" stroke-width="1.1"/>
<line x1="480.1" y1="410.1" x2="476.9" y2="410.1" stroke="#0000ff" stroke-width="1.1"/>
<line x1="255.7" y1="408.1" x2="258.9" y2="408.1" stroke="#ff0000" stroke-width="1.1"/>
<line x1="480.1" y1="408.1" x2="476.9" y2="408.1" stroke="#0000ff" stroke-width="1.1"/>
<line x1="255.7" y1="406.3" x2="258.9" y2="406.3" stroke="#ff0000" stroke-width="1.1"/>
<line x1="480.1" y1="406.3" x2="476.9" y2="406.3" stroke="#0000ff" stroke-width="1.1"/>
<text x="227.3" y="445.5" font-size="16.5" fill="#ff0000">10<tspan dy="-7.4" font-size="10.2">-7</tspan></text>
<text x="485.6" y="445.5" font-size="16.5" fill="#0000ff">10<tspan dy="-7.4" font-size="10.2">1</tspan></text>
<line x1="255.7" y1="404.7" x2="261.2" y2="404.7" stroke="#ff0000" stroke-width="1.3"/>
<line x1="480.1" y1="404.7" x2="474.6" y2="404.7" stroke="#0000ff" stroke-width="1.3"/>
<line x1="255.7" y1="394.1" x2="258.9" y2="394.1" stroke="#ff0000" stroke-width="1.1"/>
<line x1="480.1" y1="394.1" x2="476.9" y2="394.1" stroke="#0000ff" stroke-width="1.1"/>
<line x1="255.7" y1="387.9" x2="258.9" y2="387.9" stroke="#ff0000" stroke-width="1.1"/>
<line x1="480.1" y1="387.9" x2="476.9" y2="387.9" stroke="#0000ff" stroke-width="1.1"/>
<line x1="255.7" y1="383.5" x2="258.9" y2="383.5" stroke="#ff0000" stroke-width="1.1"/>
<line x1="480.1" y1="383.5" x2="476.9" y2="383.5" stroke="#0000ff" stroke-width="1.1"/>
<line x1="255.7" y1="380.1" x2="258.9" y2="380.1" stroke="#ff0000" stroke-width="1.1"/>
<line x1="480.1" y1="380.1" x2="476.9" y2="380.1" stroke="#0000ff" stroke-width="1.1"/>
<line x1="255.7" y1="377.3" x2="258.9" y2="377.3" stroke="#ff0000" stroke-width="1.1"/>
<line x1="480.1" y1="377.3" x2="476.9" y2="377.3" stroke="#0000ff" stroke-width="1.1"/>
<line x1="255.7" y1="375.0" x2="258.9" y2="375.0" stroke="#ff0000" stroke-width="1.1"/>
<line x1="480.1" y1="375.0" x2="476.9" y2="375.0" stroke="#0000ff" stroke-width="1.1"/>
<line x1="255.7" y1="372.9" x2="258.9" y2="372.9" stroke="#ff0000" stroke-width="1.1"/>
<line x1="480.1" y1="372.9" x2="476.9" y2="372.9" stroke="#0000ff" stroke-width="1.1"/>
<line x1="255.7" y1="371.1" x2="258.9" y2="371.1" stroke="#ff0000" stroke-width="1.1"/>
<line x1="480.1" y1="371.1" x2="476.9" y2="371.1" stroke="#0000ff" stroke-width="1.1"/>
<text x="227.3" y="410.2" font-size="16.5" fill="#ff0000">10<tspan dy="-7.4" font-size="10.2">-6</tspan></text>
<text x="485.6" y="410.2" font-size="16.5" fill="#0000ff">10<tspan dy="-7.4" font-size="10.2">2</tspan></text>
<line x1="255.7" y1="369.5" x2="261.2" y2="369.5" stroke="#ff0000" stroke-width="1.3"/>
<line x1="480.1" y1="369.5" x2="474.6" y2="369.5" stroke="#0000ff" stroke-width="1.3"/>
<line x1="255.7" y1="358.9" x2="258.9" y2="358.9" stroke="#ff0000" stroke-width="1.1"/>
<line x1="480.1" y1="358.9" x2="476.9" y2="358.9" stroke="#0000ff" stroke-width="1.1"/>
<line x1="255.7" y1="352.7" x2="258.9" y2="352.7" stroke="#ff0000" stroke-width="1.1"/>
<line x1="480.1" y1="352.7" x2="476.9" y2="352.7" stroke="#0000ff" stroke-width="1.1"/>
<line x1="255.7" y1="348.4" x2="258.9" y2="348.4" stroke="#ff0000" stroke-width="1.1"/>
<line x1="480.1" y1="348.4" x2="476.9" y2="348.4" stroke="#0000ff" stroke-width="1.1"/>
<line x1="255.7" y1="344.9" x2="258.9" y2="344.9" stroke="#ff0000" stroke-width="1.1"/>
<line x1="480.1" y1="344.9" x2="476.9" y2="344.9" stroke="#0000ff" stroke-width="1.1"/>
<line x1="255.7" y1="342.2" x2="258.9" y2="342.2" stroke="#ff0000" stroke-width="1.1"/>
<line x1="480.1" y1="342.2" x2="476.9" y2="342.2" stroke="#0000ff" stroke-width="1.1"/>
<line x1="255.7" y1="339.8" x2="258.9" y2="339.8" stroke="#ff0000" stroke-width="1.1"/>
<line x1="480.1" y1="339.8" x2="476.9" y2="339.8" stroke="#0000ff" stroke-width="1.1"/>
<line x1="255.7" y1="337.8" x2="258.9" y2="337.8" stroke="#ff0000" stroke-width="1.1"/>
<line x1="480.1" y1="337.8" x2="476.9" y2="337.8" stroke="#0000ff" stroke-width="1.1"/>
<line x1="255.7" y1="336.0" x2="258.9" y2="336.0" stroke="#ff0000" stroke-width="1.1"/>
<line x1="480.1" y1="336.0" x2="476.9" y2="336.0" stroke="#0000ff" stroke-width="1.1"/>
<text x="227.3" y="375.0" font-size="16.5" fill="#ff0000">10<tspan dy="-7.4" font-size="10.2">-5</tspan></text>
<text x="485.6" y="375.0" font-size="16.5" fill="#0000ff">10<tspan dy="-7.4" font-size="10.2">3</tspan></text>
<line x1="255.7" y1="334.4" x2="261.2" y2="334.4" stroke="#ff0000" stroke-width="1.3"/>
<line x1="480.1" y1="334.4" x2="474.6" y2="334.4" stroke="#0000ff" stroke-width="1.3"/>
<line x1="255.7" y1="323.8" x2="258.9" y2="323.8" stroke="#ff0000" stroke-width="1.1"/>
<line x1="480.1" y1="323.8" x2="476.9" y2="323.8" stroke="#0000ff" stroke-width="1.1"/>
<line x1="255.7" y1="317.6" x2="258.9" y2="317.6" stroke="#ff0000" stroke-width="1.1"/>
<line x1="480.1" y1="317.6" x2="476.9" y2="317.6" stroke="#0000ff" stroke-width="1.1"/>
<line x1="255.7" y1="313.2" x2="258.9" y2="313.2" stroke="#ff0000" stroke-width="1.1"/>
<line x1="480.1" y1="313.2" x2="476.9" y2="313.2" stroke="#0000ff" stroke-width="1.1"/>
<line x1="255.7" y1="309.8" x2="258.9" y2="309.8" stroke="#ff0000" stroke-width="1.1"/>
<line x1="480.1" y1="309.8" x2="476.9" y2="309.8" stroke="#0000ff" stroke-width="1.1"/>
<line x1="255.7" y1="307.0" x2="258.9" y2="307.0" stroke="#ff0000" stroke-width="1.1"/>
<line x1="480.1" y1="307.0" x2="476.9" y2="307.0" stroke="#0000ff" stroke-width="1.1"/>
<line x1="255.7" y1="304.6" x2="258.9" y2="304.6" stroke="#ff0000" stroke-width="1.1"/>
<line x1="480.1" y1="304.6" x2="476.9" y2="304.6" stroke="#0000ff" stroke-width="1.1"/>
<line x1="255.7" y1="302.6" x2="258.9" y2="302.6" stroke="#ff0000" stroke-width="1.1"/>
<line x1="480.1" y1="302.6" x2="476.9" y2="302.6" stroke="#0000ff" stroke-width="1.1"/>
<line x1="255.7" y1="300.8" x2="258.9" y2="300.8" stroke="#ff0000" stroke-width="1.1"/>
<line x1="480.1" y1="300.8" x2="476.9" y2="300.8" stroke="#0000ff" stroke-width="1.1"/>
<text x="227.3" y="339.7" font-size="16.5" fill="#ff0000">10<tspan dy="-7.4" font-size="10.2">-4</tspan></text>
<text x="485.6" y="339.7" font-size="16.5" fill="#0000ff">10<tspan dy="-7.4" font-size="10.2">4</tspan></text>
<line x1="255.7" y1="299.2" x2="261.2" y2="299.2" stroke="#ff0000" stroke-width="1.3"/>
<line x1="480.1" y1="299.2" x2="474.6" y2="299.2" stroke="#0000ff" stroke-width="1.3"/>
<line x1="255.7" y1="288.6" x2="258.9" y2="288.6" stroke="#ff0000" stroke-width="1.1"/>
<line x1="480.1" y1="288.6" x2="476.9" y2="288.6" stroke="#0000ff" stroke-width="1.1"/>
<text x="227.3" y="304.5" font-size="16.5" fill="#ff0000">10<tspan dy="-7.4" font-size="10.2">-3</tspan></text>
<text x="485.6" y="304.5" font-size="16.5" fill="#0000ff">10<tspan dy="-7.4" font-size="10.2">5</tspan></text>
<line x1="466.1" y1="475.0" x2="466.1" y2="469.6" stroke="#000" stroke-width="1.3"/>
<text x="466.1" y="491.1" font-size="16.6" fill="#111" text-anchor="middle" >0.0</text>
<line x1="446.5" y1="475.0" x2="446.5" y2="472.0" stroke="#000" stroke-width="1.1"/>
<line x1="426.8" y1="475.0" x2="426.8" y2="469.6" stroke="#000" stroke-width="1.3"/>
<text x="426.8" y="491.1" font-size="16.6" fill="#111" text-anchor="middle" >0.2</text>
<line x1="407.2" y1="475.0" x2="407.2" y2="472.0" stroke="#000" stroke-width="1.1"/>
<line x1="387.5" y1="475.0" x2="387.5" y2="469.6" stroke="#000" stroke-width="1.3"/>
<text x="387.5" y="491.1" font-size="16.6" fill="#111" text-anchor="middle" >0.4</text>
<line x1="367.9" y1="475.0" x2="367.9" y2="472.0" stroke="#000" stroke-width="1.1"/>
<line x1="348.3" y1="475.0" x2="348.3" y2="469.6" stroke="#000" stroke-width="1.3"/>
<text x="348.3" y="491.1" font-size="16.6" fill="#111" text-anchor="middle" >0.6</text>
<line x1="328.6" y1="475.0" x2="328.6" y2="472.0" stroke="#000" stroke-width="1.1"/>
<line x1="309.0" y1="475.0" x2="309.0" y2="469.6" stroke="#000" stroke-width="1.3"/>
<text x="309.0" y="491.1" font-size="16.6" fill="#111" text-anchor="middle" >0.8</text>
<line x1="289.3" y1="475.0" x2="289.3" y2="472.0" stroke="#000" stroke-width="1.1"/>
<line x1="269.7" y1="475.0" x2="269.7" y2="469.6" stroke="#000" stroke-width="1.3"/>
<text x="269.7" y="491.1" font-size="16.6" fill="#111" text-anchor="middle" >1.0</text>
<text x="366.3" y="511.2" font-size="19.3" fill="#111" text-anchor="middle" >Composition, x</text>
<text transform="translate(220.0 380.8) rotate(-90) scale(0.945 1)" font-size="19.8" fill="#ff0000" text-anchor="middle">Current at V<tspan font-size="13.5">a</tspan><tspan font-size="19.8"> = 0.3 V (A)</tspan></text>
<text x="0.0" y="0.0" font-size="19" fill="#0000ff" text-anchor="middle" transform="translate(531.8 376.0) rotate(-90)">Selectivity (a.u.)</text>
</svg>
</body></html>
